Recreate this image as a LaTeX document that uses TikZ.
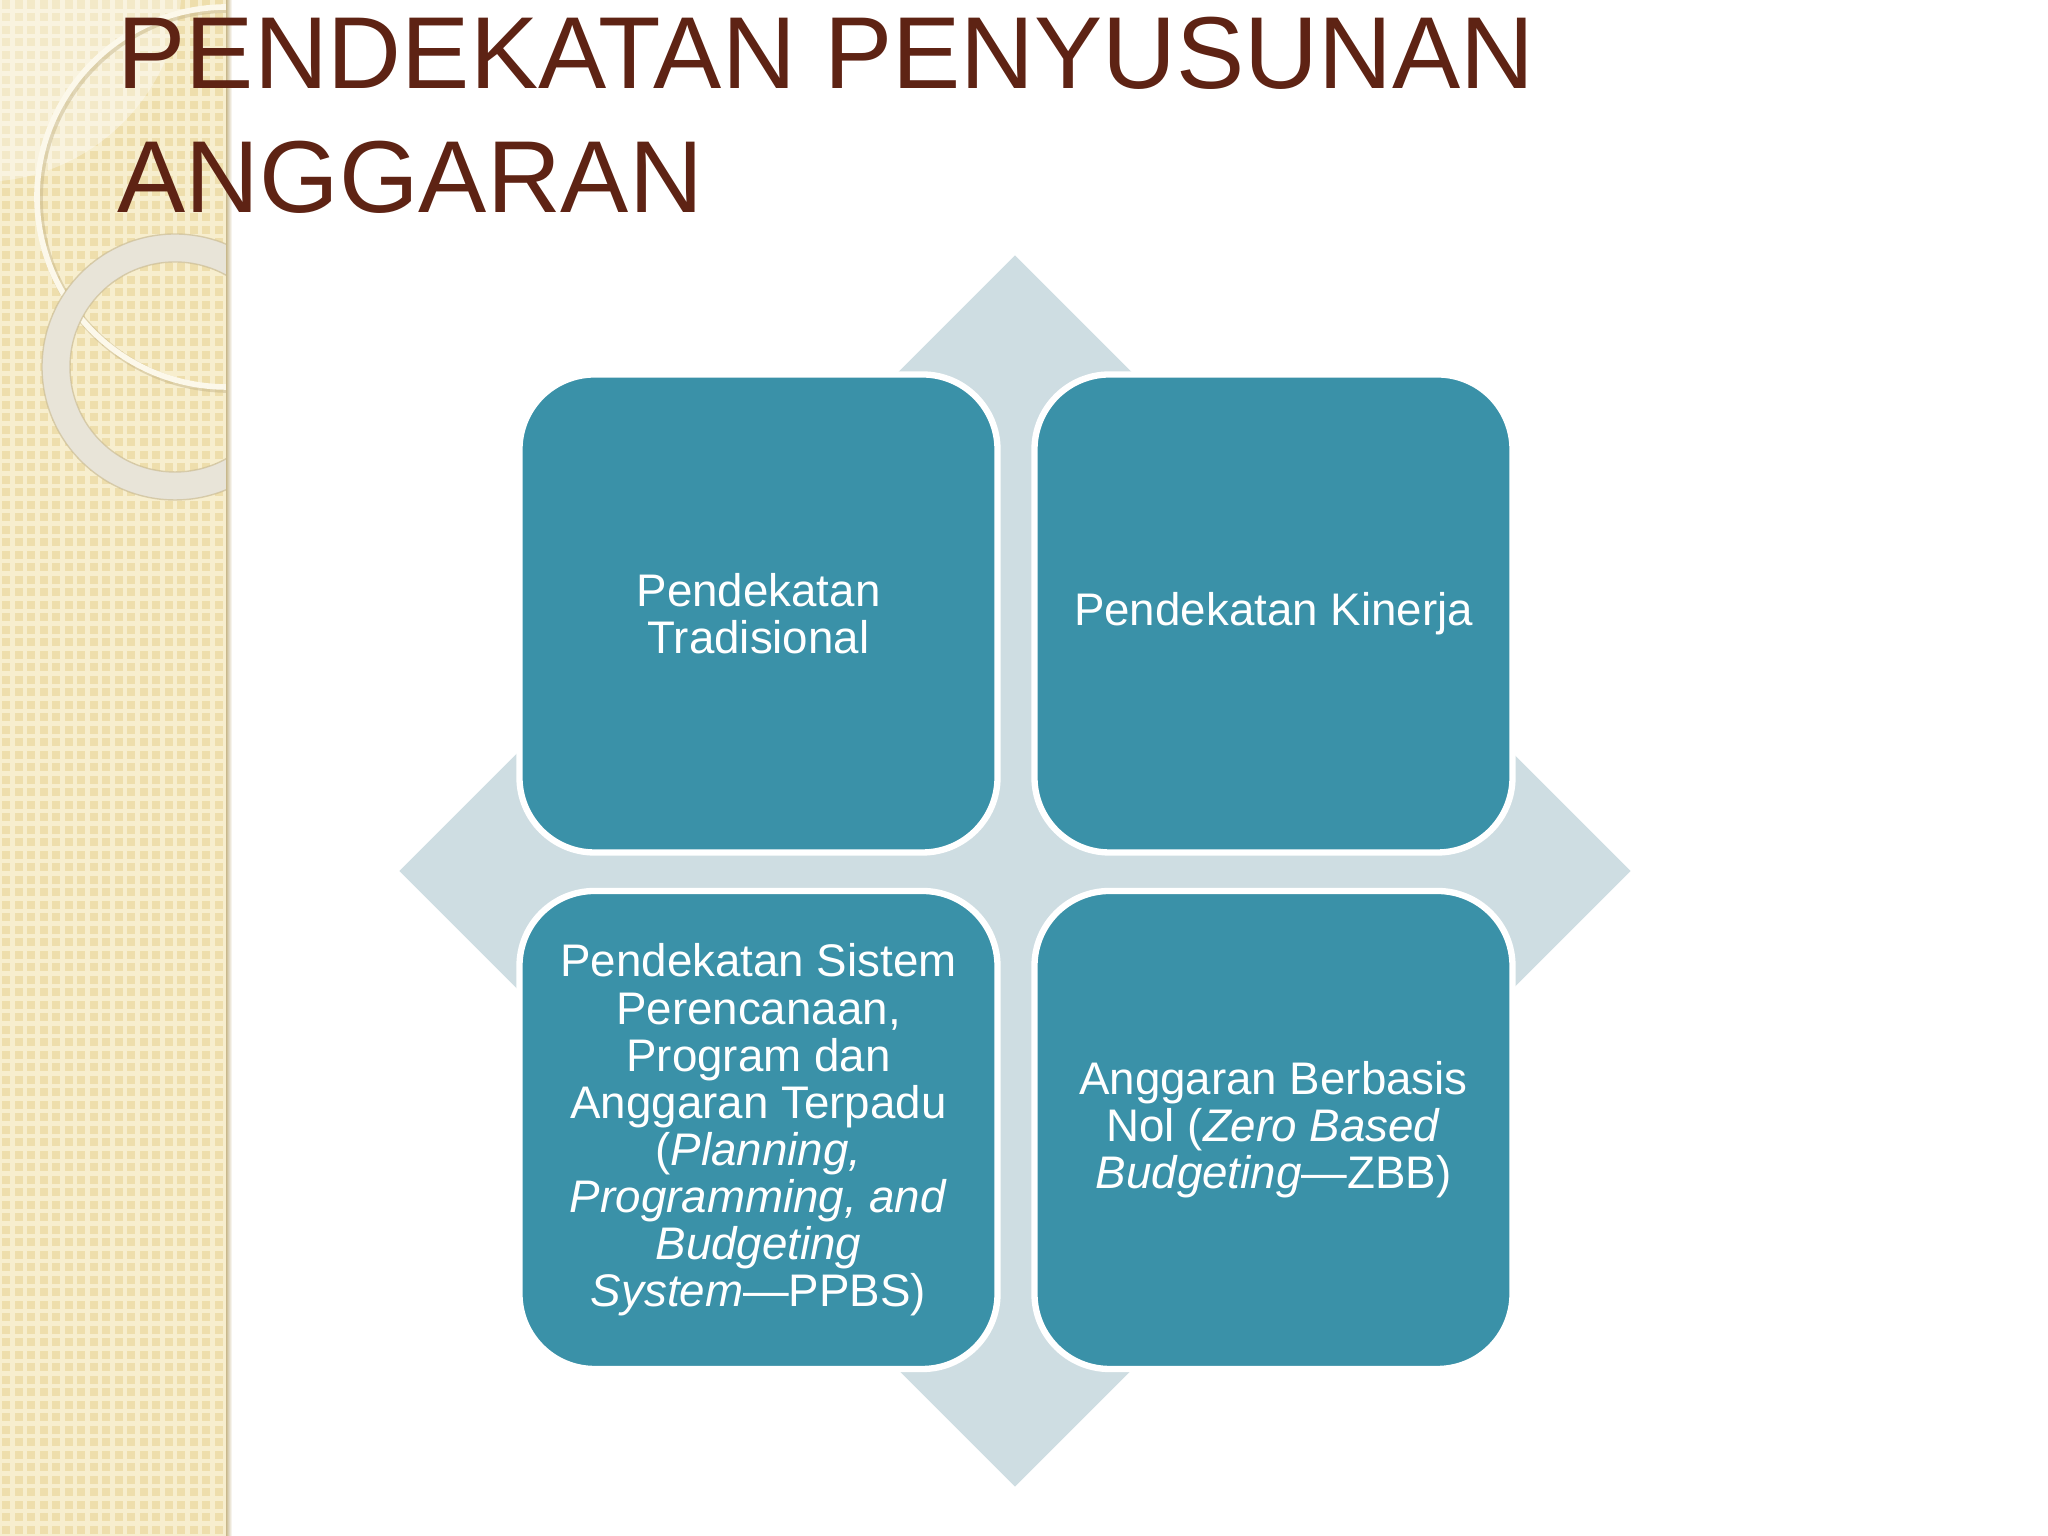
\documentclass[tikz,border=0pt]{standalone}
\usepackage{fontspec}
\setmainfont{Liberation Sans}
\usetikzlibrary{shapes.geometric}

\definecolor{stripbase}{RGB}{238,222,172}
\definecolor{striplight}{RGB}{247,238,206}
\definecolor{stripedge}{RGB}{200,184,140}
\definecolor{ringcream}{RGB}{252,248,234}
\definecolor{ringgray}{RGB}{232,228,216}
\definecolor{titlebrown}{RGB}{94,35,20}
\definecolor{diamondgray}{RGB}{206,221,226}
\definecolor{boxteal}{RGB}{58,145,168}

\begin{document}
\begin{tikzpicture}[
    quadbox/.style={rectangle, rounded corners=0.75cm, minimum size=4.78cm,
        fill=boxteal, draw=white, line width=1.8pt, text=white, align=center,
        inner sep=0pt, font=\fontsize{13}{13.4}\selectfont},
    titletext/.style={anchor=base west, inner sep=0pt, text=titlebrown,
        font=\fontsize{29.1}{34.7}\selectfont}
]
    \useasboundingbox (0,0) rectangle (20.48,15.36);

    % Left strip with rings
    \fill[stripbase] (0,0) rectangle (2.26,15.36);
    \begin{scope}
        \clip (0,0) rectangle (2.26,15.36);
        \draw[striplight, line width=1.3pt, step=0.125] (0,0) grid (2.26,15.36);
        \fill[white, opacity=0.35] (-0.2,15.56) circle (2.02);
        \draw[stripedge, opacity=0.5, line width=2.2pt] (2.29,13.37) circle (1.90);
        \draw[ringcream, line width=1.6pt] (2.27,13.39) circle (1.90);
        \draw[ringgray, line width=8pt] (1.75,11.69) circle (1.19);
        \draw[stripedge, opacity=0.6, line width=0.4pt] (1.75,11.69) circle (1.33);
        \draw[stripedge, opacity=0.6, line width=0.4pt] (1.75,11.69) circle (1.05);
    \end{scope}
    \shade[left color=stripedge, right color=white] (2.26,0) rectangle (2.32,15.36);

    % Title
    \node[titletext] (title1) at (1.17,14.47) {PENDEKATAN PENYUSUNAN};
    \node[titletext] (title2) at (1.17,13.23) {ANGGARAN};

    % Backdrop and the four boxes
    \node[diamond, minimum size=12.32cm, fill=diamondgray, inner sep=0pt] (backdrop) at (10.15,6.65) {};
    \node[quadbox] (trad) at (7.585,9.225) {Pendekatan\\Tradisional};
    \node[quadbox] (kinerja) at (12.735,9.225) {Pendekatan Kinerja};
    \node[quadbox] (ppbs) at (7.585,4.06) {Pendekatan Sistem\\Perencanaan,\\Program dan\\Anggaran Terpadu\\(\textit{Planning,}\\\textit{Programming, and}\\\textit{Budgeting}\\\textit{System}—PPBS)};
    \node[quadbox] (zbb) at (12.735,4.06) {Anggaran Berbasis\\Nol (\textit{Zero Based}\\\textit{Budgeting}—ZBB)};
\end{tikzpicture}
\end{document}
